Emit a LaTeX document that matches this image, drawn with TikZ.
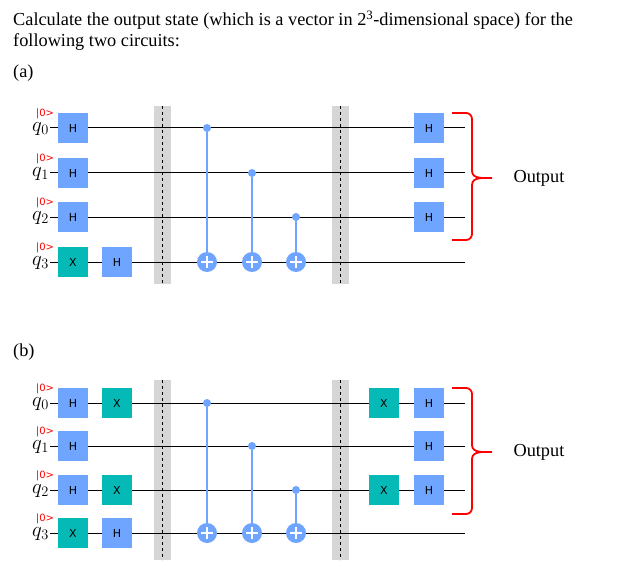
\documentclass[tikz,border=0pt]{standalone}
\usepackage{fontspec}
\usetikzlibrary{calc}
\setmainfont{Liberation Serif}
\newfontfamily\gatefont{DejaVu Sans}
\definecolor{hblue}{HTML}{6FA4FF}
\definecolor{xteal}{HTML}{05BAB6}
\definecolor{bargray}{HTML}{D6D6D6}
\begin{document}
\begin{tikzpicture}[x=1pt,y=-1pt,
  wire/.style={line width=1pt},
  hgate/.style={draw=none,fill=hblue,minimum size=30pt,inner sep=0pt,font=\gatefont\fontsize{11}{11}\selectfont},
  xgate/.style={hgate,fill=xteal},
  ctrl/.style={circle,fill=hblue,inner sep=0pt,minimum size=8pt},
  targ/.style={circle,fill=hblue,inner sep=0pt,minimum size=20pt},
  qlab/.style={font=\fontsize{20}{20}\selectfont,anchor=east,inner sep=1pt},
  ket/.style={text=red,font=\gatefont\fontsize{10}{10}\selectfont,inner sep=0pt},
  txt/.style={anchor=west,inner sep=0pt,font=\fontsize{18.3}{21}\selectfont},
  barrier/.style={fill=bargray},
  brace/.style={red,line width=1.8pt}]
\useasboundingbox (0,0) rectangle (617,569);
\node[txt] (l1) at (13,20) {Calculate the output state (which is a vector in 2\textsuperscript{3}-dimensional space) for the};
\node[txt] (l2) at (13,42) {following two circuits:};
\node[txt] (la) at (13,73) {(a)};
\node[txt] (lb) at (13,352) {(b)};

% ---------- circuit (a)
\fill[barrier] (154,106) rectangle (171,284);
\fill[barrier] (332,106) rectangle (349,284);
\foreach \i/\y in {0/128,1/173,2/217,3/262}{
  \draw[wire] (50,\y) -- (465,\y);
  \node[qlab] (qa\i) at (50,\y+1) {$q_{\i}$};
  \node[ket] (ka\i) at (45,\y-14) {|0>};
}
\draw[dashed] (162,106) -- (162,284);
\draw[dashed] (340,106) -- (340,284);
\node[hgate] (ha0) at (73,128) {H};
\node[hgate] (ha1) at (73,173) {H};
\node[hgate] (ha2) at (73,217) {H};
\node[xgate] (xa3) at (73,262) {X};
\node[hgate] (ha3) at (117,262) {H};
\foreach \x/\i/\y in {207/0/128,252/1/173,296/2/217}{
  \node[ctrl] (ca\i) at (\x,\y) {};
  \node[targ] (ta\i) at (\x,262) {};
  \draw[hblue,line width=1.5pt] (ca\i) -- (ta\i.center);
  \draw[white,line width=1.5pt] ($(ta\i.north)+(0,4)$) -- ($(ta\i.south)+(0,-4)$);
  \draw[white,line width=1.5pt] ($(ta\i.west)+(4,0)$) -- ($(ta\i.east)+(-4,0)$);
}
\node[hgate] (oa0) at (429,128) {H};
\node[hgate] (oa1) at (429,173) {H};
\node[hgate] (oa2) at (429,217) {H};
\coordinate (bta) at (452,113);
\coordinate (bba) at (452,240);
\draw[brace] (bta) -- (466,113) to[out=0,in=90] (472,119) -- (472,171) to[out=-90,in=180] (492,178)
  to[out=180,in=90] (472,185) -- (472,234) to[out=-90,in=0] (466,240) -- (bba);
\node[anchor=west,font=\fontsize{18.3}{21}\selectfont] (outa) at (510,178) {Output};

% ---------- circuit (b)
\fill[barrier] (154,380) rectangle (171,560);
\fill[barrier] (332,380) rectangle (349,560);
\foreach \i/\y in {0/403,1/446,2/490,3/533}{
  \draw[wire] (50,\y) -- (465,\y);
  \node[qlab] (qb\i) at (50,\y+1) {$q_{\i}$};
  \node[ket] (kb\i) at (45,\y-14) {|0>};
}
\draw[dashed] (162,380) -- (162,560);
\draw[dashed] (340,380) -- (340,560);
\node[hgate] (hb0) at (73,403) {H};
\node[hgate] (hb1) at (73,446) {H};
\node[hgate] (hb2) at (73,490) {H};
\node[xgate] (xb3) at (73,533) {X};
\node[xgate] (xb0) at (117,403) {X};
\node[xgate] (xb2) at (117,490) {X};
\node[hgate] (hb3) at (117,533) {H};
\foreach \x/\i/\y in {207/0/403,252/1/446,296/2/490}{
  \node[ctrl] (cb\i) at (\x,\y) {};
  \node[targ] (tb\i) at (\x,533) {};
  \draw[hblue,line width=1.5pt] (cb\i) -- (tb\i.center);
  \draw[white,line width=1.5pt] ($(tb\i.north)+(0,4)$) -- ($(tb\i.south)+(0,-4)$);
  \draw[white,line width=1.5pt] ($(tb\i.west)+(4,0)$) -- ($(tb\i.east)+(-4,0)$);
}
\node[xgate] (yb0) at (384,403) {X};
\node[xgate] (yb2) at (384,490) {X};
\node[hgate] (ob0) at (429,403) {H};
\node[hgate] (ob1) at (429,446) {H};
\node[hgate] (ob2) at (429,490) {H};
\coordinate (btb) at (452,388);
\coordinate (bbb) at (452,514);
\draw[brace] (btb) -- (466,388) to[out=0,in=90] (472,394) -- (472,445) to[out=-90,in=180] (492,452)
  to[out=180,in=90] (472,459) -- (472,508) to[out=-90,in=0] (466,514) -- (bbb);
\node[anchor=west,font=\fontsize{18.3}{21}\selectfont] (outb) at (510,452) {Output};
\end{tikzpicture}
\end{document}
